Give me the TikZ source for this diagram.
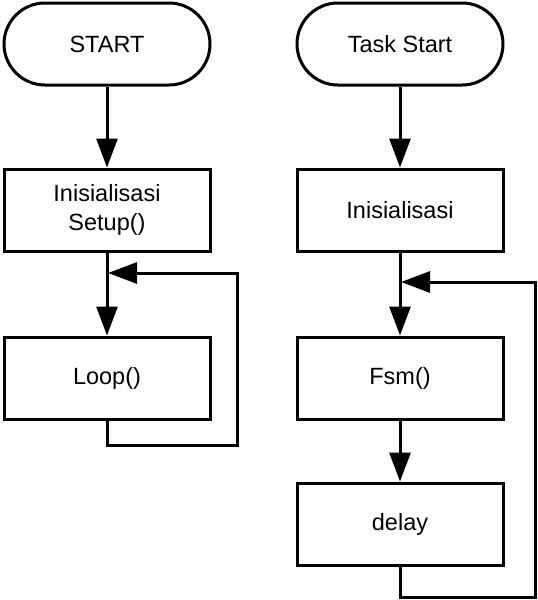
\documentclass[tikz,border=0pt]{standalone}
\usepackage{fontspec}
\setmainfont{Liberation Sans}
\usetikzlibrary{positioning,arrows.meta}

\begin{document}
\begin{tikzpicture}[x=1pt, y=-1pt,
    terminal/.style={draw=black, line width=3pt, rounded corners=41pt, minimum width=206pt, minimum height=82pt, font=\fontsize{23.5}{29}\selectfont, align=center},
    process/.style={draw=black, line width=3pt, minimum width=206pt, minimum height=82pt, font=\fontsize{23.5}{29}\selectfont, align=center},
    flow/.style={line width=3pt, -{Triangle[length=29pt, width=21pt]}},
    loopline/.style={line width=3pt}]
    \useasboundingbox (0,0) rectangle (538,600);

    % Main program
    \node[terminal] (start) at (107,44) {START};
    \node[process] (setup) at (107,210) {Inisialisasi\\Setup()};
    \node[process] (loop) at (107,378) {Loop()};
    \coordinate (joinA) at (108,273);

    \draw[flow] (start) -- (setup);
    \draw[flow] (setup) -- (loop);
    % Loop back to the top of Loop()
    \draw[loopline] (loop.south) -- (107,445) -- (237,445) -- (237,273) -- (130,273);
    \draw[flow] (237,273) -- (joinA);

    % Task
    \node[terminal] (task) at (400,44) {Task Start};
    \node[process] (init) at (400,210) {Inisialisasi};
    \node[process] (fsm) at (400,378) {Fsm()};
    \node[process] (delay) at (400,524) {delay};
    \coordinate (joinB) at (401,282);

    \draw[flow] (task) -- (init);
    \draw[flow] (init) -- (fsm);
    \draw[flow] (fsm) -- (delay);
    % Loop back to the top of Fsm()
    \draw[loopline] (delay.south) -- (400,597) -- (535,597) -- (535,282) -- (430,282);
    \draw[flow] (535,282) -- (joinB);
\end{tikzpicture}
\end{document}
